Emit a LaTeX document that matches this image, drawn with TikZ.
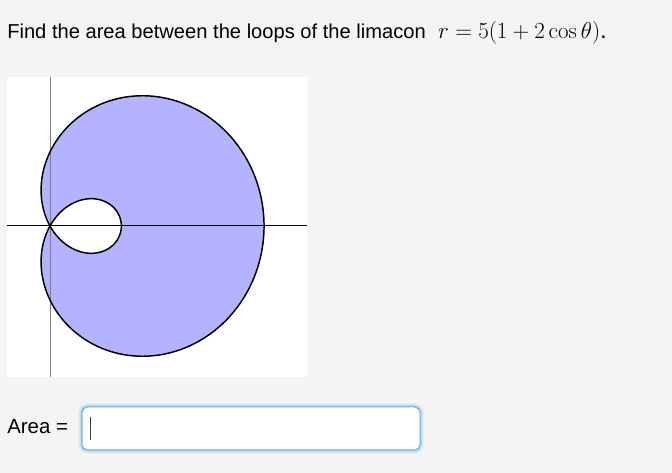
\documentclass[tikz,border=0pt]{standalone}
\usepackage[no-math]{fontspec}
\setmainfont{Liberation Sans}
\definecolor{bg}{HTML}{F4F4F4}
\definecolor{focus}{HTML}{66AFE9}
\definecolor{fillblue}{RGB}{179,179,255}
\tikzset{
  txt/.style={anchor=base west, inner sep=0pt, font=\fontsize{15.1}{18}\selectfont},
  curve/.style={line width=1.1pt, black},
}
\begin{document}
\begin{tikzpicture}[x=0.75pt,y=-0.75pt]
\fill[bg] (0,0) rectangle (672,473);
\useasboundingbox (0,0) rectangle (672,473);
% title
\node[txt] (title) at (7,39) {Find the area between the loops of the limacon\hspace{5pt} {\fontsize{18}{20}\selectfont$r = 5(1+2\cos\theta)$.}};
% plot box
\fill[white] (7,77) rectangle (307,377);
\fill[fillblue, even odd rule] plot[domain=0:360, samples=361] ({50+71.35*(1+2*cos(\x))*cos(\x)}, {226-74*(1+2*cos(\x))*sin(\x)}) -- cycle;
\draw[gray, line width=0.75pt] (50,77) -- (50,377);
\draw[black, line width=0.75pt] (7,226) -- (307,226);
\draw[curve] plot[domain=0:360, samples=361] ({50+71.35*(1+2*cos(\x))*cos(\x)}, {226-74*(1+2*cos(\x))*sin(\x)}) -- cycle;
% answer line
\node[txt, font=\fontsize{15.3}{18}\selectfont] (area) at (7,434) {Area =};
\foreach \w/\o in {6/0.08,4.5/0.12,3/0.18,1.5/0.3}{
  \draw[focus, opacity=\o, line width=\w pt, rounded corners=4pt] (82,407) rectangle (420,450);
}
\node[draw=focus, fill=white, line width=0.75pt, rounded corners=4pt, minimum width=253.5pt, minimum height=32.25pt, inner sep=0pt] (box) at (251,428.5) {};
\draw[black!75, line width=0.75pt] ([xshift=6.75pt,yshift=-8.25pt]box.north west) -- ([xshift=6.75pt,yshift=7.5pt]box.south west);
\end{tikzpicture}
\end{document}
